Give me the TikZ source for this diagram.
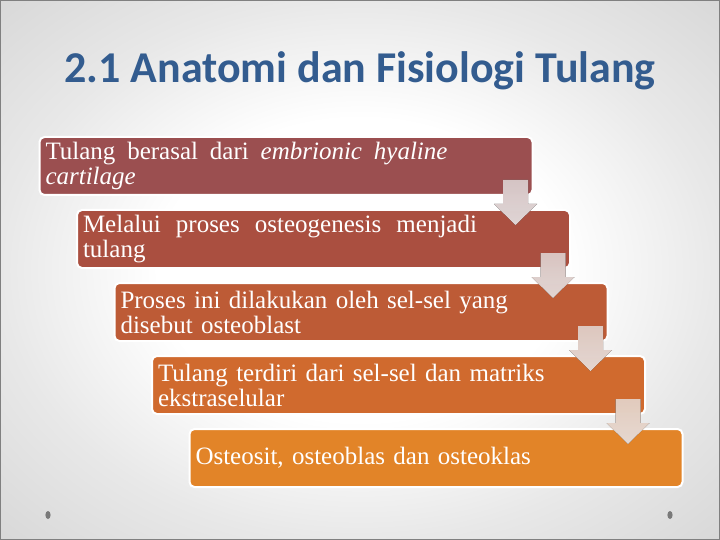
\documentclass[tikz,border=0pt]{standalone}
\usepackage{fontspec}
\setmainfont{Liberation Serif}
\newfontfamily\titlefont{Carlito}
\usetikzlibrary{calc}
\definecolor{titleblue}{HTML}{335C8F}
\definecolor{cA}{HTML}{9B4F50}
\definecolor{cB}{HTML}{AA4F40}
\definecolor{cC}{HTML}{BD5B36}
\definecolor{cD}{HTML}{D06A2E}
\definecolor{cE}{HTML}{E28428}
\definecolor{dotgray}{HTML}{7A7A7A}
\pgfdeclareradialshading{slidebg}{\pgfpoint{0bp}{0bp}}{color(0bp)=(white); color(14bp)=(white); color(25bp)=(black!9); color(35bp)=(black!15); color(50bp)=(black!15)}
\tikzset{
  stepbox/.style={draw=white, line width=2pt, rounded corners=5pt, anchor=north west,
    minimum width=493pt, minimum height=58pt, inner xsep=6pt, inner ysep=2pt,
    text width=481pt, align=left, text=white,
    font=\fontsize{25}{25}\selectfont},
  downarrow/.style={fill opacity=0.92, draw=none},
}
\begin{document}
\begin{tikzpicture}[x=1pt,y=-1pt]
\useasboundingbox (0,0) rectangle (720,540);
\shade[shading=slidebg] (0,0) rectangle (720,540);
\draw[gray, line width=0.8pt] (0.4,0.4) rectangle (719.6,539.6);
\node[font=\titlefont\bfseries\fontsize{44}{48}\selectfont, text=titleblue] (title) at (360,71) {2.1 Anatomi dan Fisiologi Tulang};
\node[stepbox, fill=cA] (b1) at (38.5,136) {\hbox to 402pt{Tulang\hfill berasal\hfill dari\hfill \textit{embrionic}\hfill \textit{hyaline}}\\\textit{cartilage}};
\node[stepbox, fill=cB] (b2) at (76,209) {\hbox to 394pt{Melalui\hfill proses\hfill osteogenesis\hfill menjadi}\\tulang};
\node[stepbox, fill=cC] (b3) at (113.5,282) {Proses ini dilakukan oleh sel-sel yang\\disebut osteoblast};
\node[stepbox, fill=cD] (b4) at (151,355) {Tulang terdiri dari sel-sel dan matriks\\ekstraselular};
\node[stepbox, fill=cE] (b5) at (188.5,428) {Osteosit, osteoblas dan osteoklas};
\foreach \b/\c in {b1/cA, b2/cB, b3/cC, b4/cD}{
  \begin{scope}[shift={($(\b.south east)+(-18,0)$)}]
    \fill[downarrow, top color=\c!24!white, bottom color=\c!14!white]
      (-12.5,-16) -- (12.5,-16) -- (12.5,8) -- (21.5,8) -- (0,29) -- (-21.5,8) -- (-12.5,8) -- cycle;
  \end{scope}
}
\fill[dotgray] (48,515) ellipse (2.6 and 4);
\fill[dotgray] (670,515) ellipse (2.6 and 4);
\end{tikzpicture}
\end{document}
